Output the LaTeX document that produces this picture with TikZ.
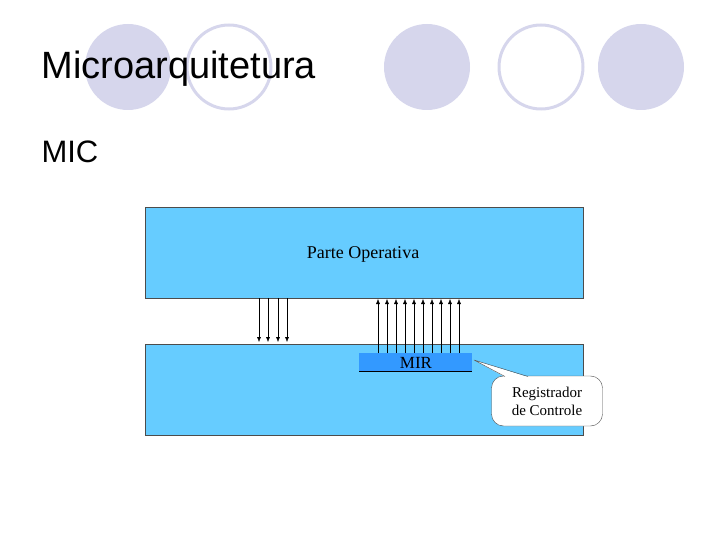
\documentclass[tikz,border=0pt]{standalone}
\usepackage{fontspec}
\setmainfont{Liberation Sans}
\newfontfamily\serifx{Liberation Serif}
\definecolor{lav}{RGB}{214,214,236}
\definecolor{boxblue}{RGB}{102,204,255}
\definecolor{mirblue}{RGB}{51,153,255}
\tikzset{deco/.style={fill=lav,draw=none},ring/.style={draw=lav,line width=3pt,fill=white},
 panel/.style={draw=black!70,fill=boxblue},sig/.style={-{Latex[length=5pt,width=4pt]},thin}}
\usetikzlibrary{arrows.meta}
\begin{document}
\begin{tikzpicture}[x=1pt,y=-1pt]
\useasboundingbox (0,0) rectangle (720,540);
\fill[deco] (128,67) circle (43);
\draw[ring] (229,67) circle (42);
\fill[deco] (427,67) circle (43);
\draw[ring] (541,67) circle (42);
\fill[deco] (641,67) circle (43);
\node[anchor=west,font=\fontsize{38}{44}\selectfont] (t) at (38,69) {Microarquitetura};
\node[anchor=west,font=\fontsize{31}{36}\selectfont] (m) at (38,152) {MIC};
\node[panel,minimum width=438,minimum height=91,anchor=north west,inner sep=0] (po) at (145,207) {};
\node[font=\serifx\fontsize{18}{20}\selectfont] at (363,254) {Parte Operativa};
\node[panel,minimum width=438,minimum height=91,anchor=north west,inner sep=0] (pc) at (145,344) {};
\node[fill=mirblue,minimum width=113,minimum height=18,anchor=north west,inner sep=0] (mir) at (359,353) {};
\node[font=\serifx\fontsize{17}{18}\selectfont] at (416,363) {MIR};
\draw (mir.south west)--(mir.south east);
\foreach \x in {259,268,278,287} \draw[sig] (\x,298) -- (\x,342);
\foreach \i in {0,...,9} \draw[sig] (378+\i*9,353) -- (378+\i*9,299);
\coordinate (tip) at (474,360);
\node[draw=black!70,fill=white,rounded corners=12,minimum width=111,minimum height=50,align=center,font=\serifx\fontsize{15}{18}\selectfont] (cb) at (547,401) {Registrador\\de Controle};
\fill[white] (505,377) -- (tip) -- (528,377) -- cycle;
\draw[black!70] (505,376.5) -- (tip) -- (528,376.5);
\end{tikzpicture}
\end{document}
